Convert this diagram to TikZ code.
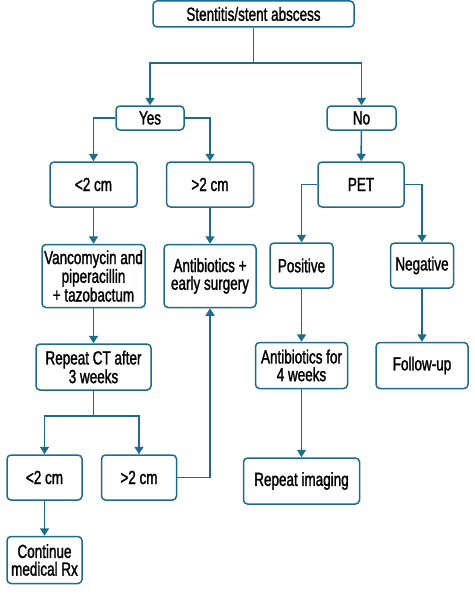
\documentclass[tikz,border=0pt]{standalone}
\usepackage{fontspec}
\setmainfont{Liberation Sans}[FakeStretch=0.71,FakeBold=1.4]
\usetikzlibrary{arrows.meta,positioning,calc}
\definecolor{flowcolor}{RGB}{28,108,138}

\begin{document}
\begin{tikzpicture}[
    x=1pt, y=1pt,
    box/.style={rectangle, draw=flowcolor, rounded corners=4pt, line width=1.5pt, minimum height=45pt, align=center, inner sep=2pt, font=\fontsize{19}{17.7}\selectfont},
    line/.style={draw=flowcolor, line width=1.6pt},
    arrow/.style={line, -{Triangle[length=7.5pt,width=9pt]}}
]
\useasboundingbox (0,0) rectangle (474,-594);

% Top
\node[box, minimum width=201pt, minimum height=26pt] (start) at (253.5,-14) {Stentitis/stent abscess};
\coordinate (split1) at (253.5,-63);
\node[box, minimum width=68pt, minimum height=24pt] (yes) at (150,-118) {Yes};
\node[box, minimum width=69pt, minimum height=24pt] (no) at (361.5,-118) {No};

% Yes branch
\node[box, minimum width=87pt] (lt2a) at (93.5,-184.5) {<2 cm};
\node[box, minimum width=87pt, right=28pt of lt2a] (gt2a) {>2 cm};
\node[box, minimum width=103pt, minimum height=63pt, below=36pt of lt2a] (vanco) {Vancomycin and\\piperacillin\\+ tazobactum};
\node[box, minimum width=92pt, minimum height=63pt, below=36pt of gt2a] (surgery) {Antibiotics +\\early surgery};
\node[box, minimum width=115pt, minimum height=46pt, below=35pt of vanco] (repct) {Repeat CT after\\3 weeks};
\coordinate (split2) at (93.5,-416);
\node[box, minimum width=75pt] (lt2b) at (44.5,-477.5) {<2 cm};
\node[box, minimum width=75pt, right=18pt of lt2b] (gt2b) {>2 cm};
\node[box, minimum width=75pt, minimum height=47pt, below=35pt of lt2b] (cont) {Continue\\medical Rx};

% No branch
\node[box, minimum width=86pt] (pet) at (361,-184.5) {PET};
\node[box, minimum width=63pt] (pos) at (301.5,-265.5) {Positive};
\node[box, minimum width=63pt, right=56pt of pos] (neg) {Negative};
\node[box, minimum width=92pt, minimum height=46pt, below=53pt of pos] (abx4) {Antibiotics for\\4 weeks};
\node[box, minimum width=92pt, minimum height=46pt, below=53pt of neg] (follow) {Follow-up};
\node[box, minimum width=116pt, minimum height=46pt, below=68pt of abx4] (reimg) {Repeat imaging};

% Arrows
\draw[line] (start) -- (split1);
\draw[arrow] (split1) -| (yes);
\draw[arrow] (split1) -| (no);
\draw[arrow] (yes.west) -| (lt2a);
\draw[arrow] (yes.east) -| (gt2a);
\draw[arrow] (lt2a) -- (vanco);
\draw[arrow] (gt2a) -- (surgery);
\draw[arrow] (vanco) -- (repct);
\draw[line] (repct) -- (split2);
\draw[arrow] (split2) -| (lt2b);
\draw[arrow] (split2) -| (gt2b);
\draw[arrow] (lt2b) -- (cont);
\draw[arrow] (gt2b.east) -| (surgery);
\draw[arrow] (no) -- (pet);
\draw[arrow] (pet.west) -| (pos);
\draw[arrow] (pet.east) -| (neg);
\draw[arrow] (pos) -- (abx4);
\draw[arrow] (neg) -- (follow);
\draw[arrow] (abx4) -- (reimg);

\end{tikzpicture}
\end{document}
